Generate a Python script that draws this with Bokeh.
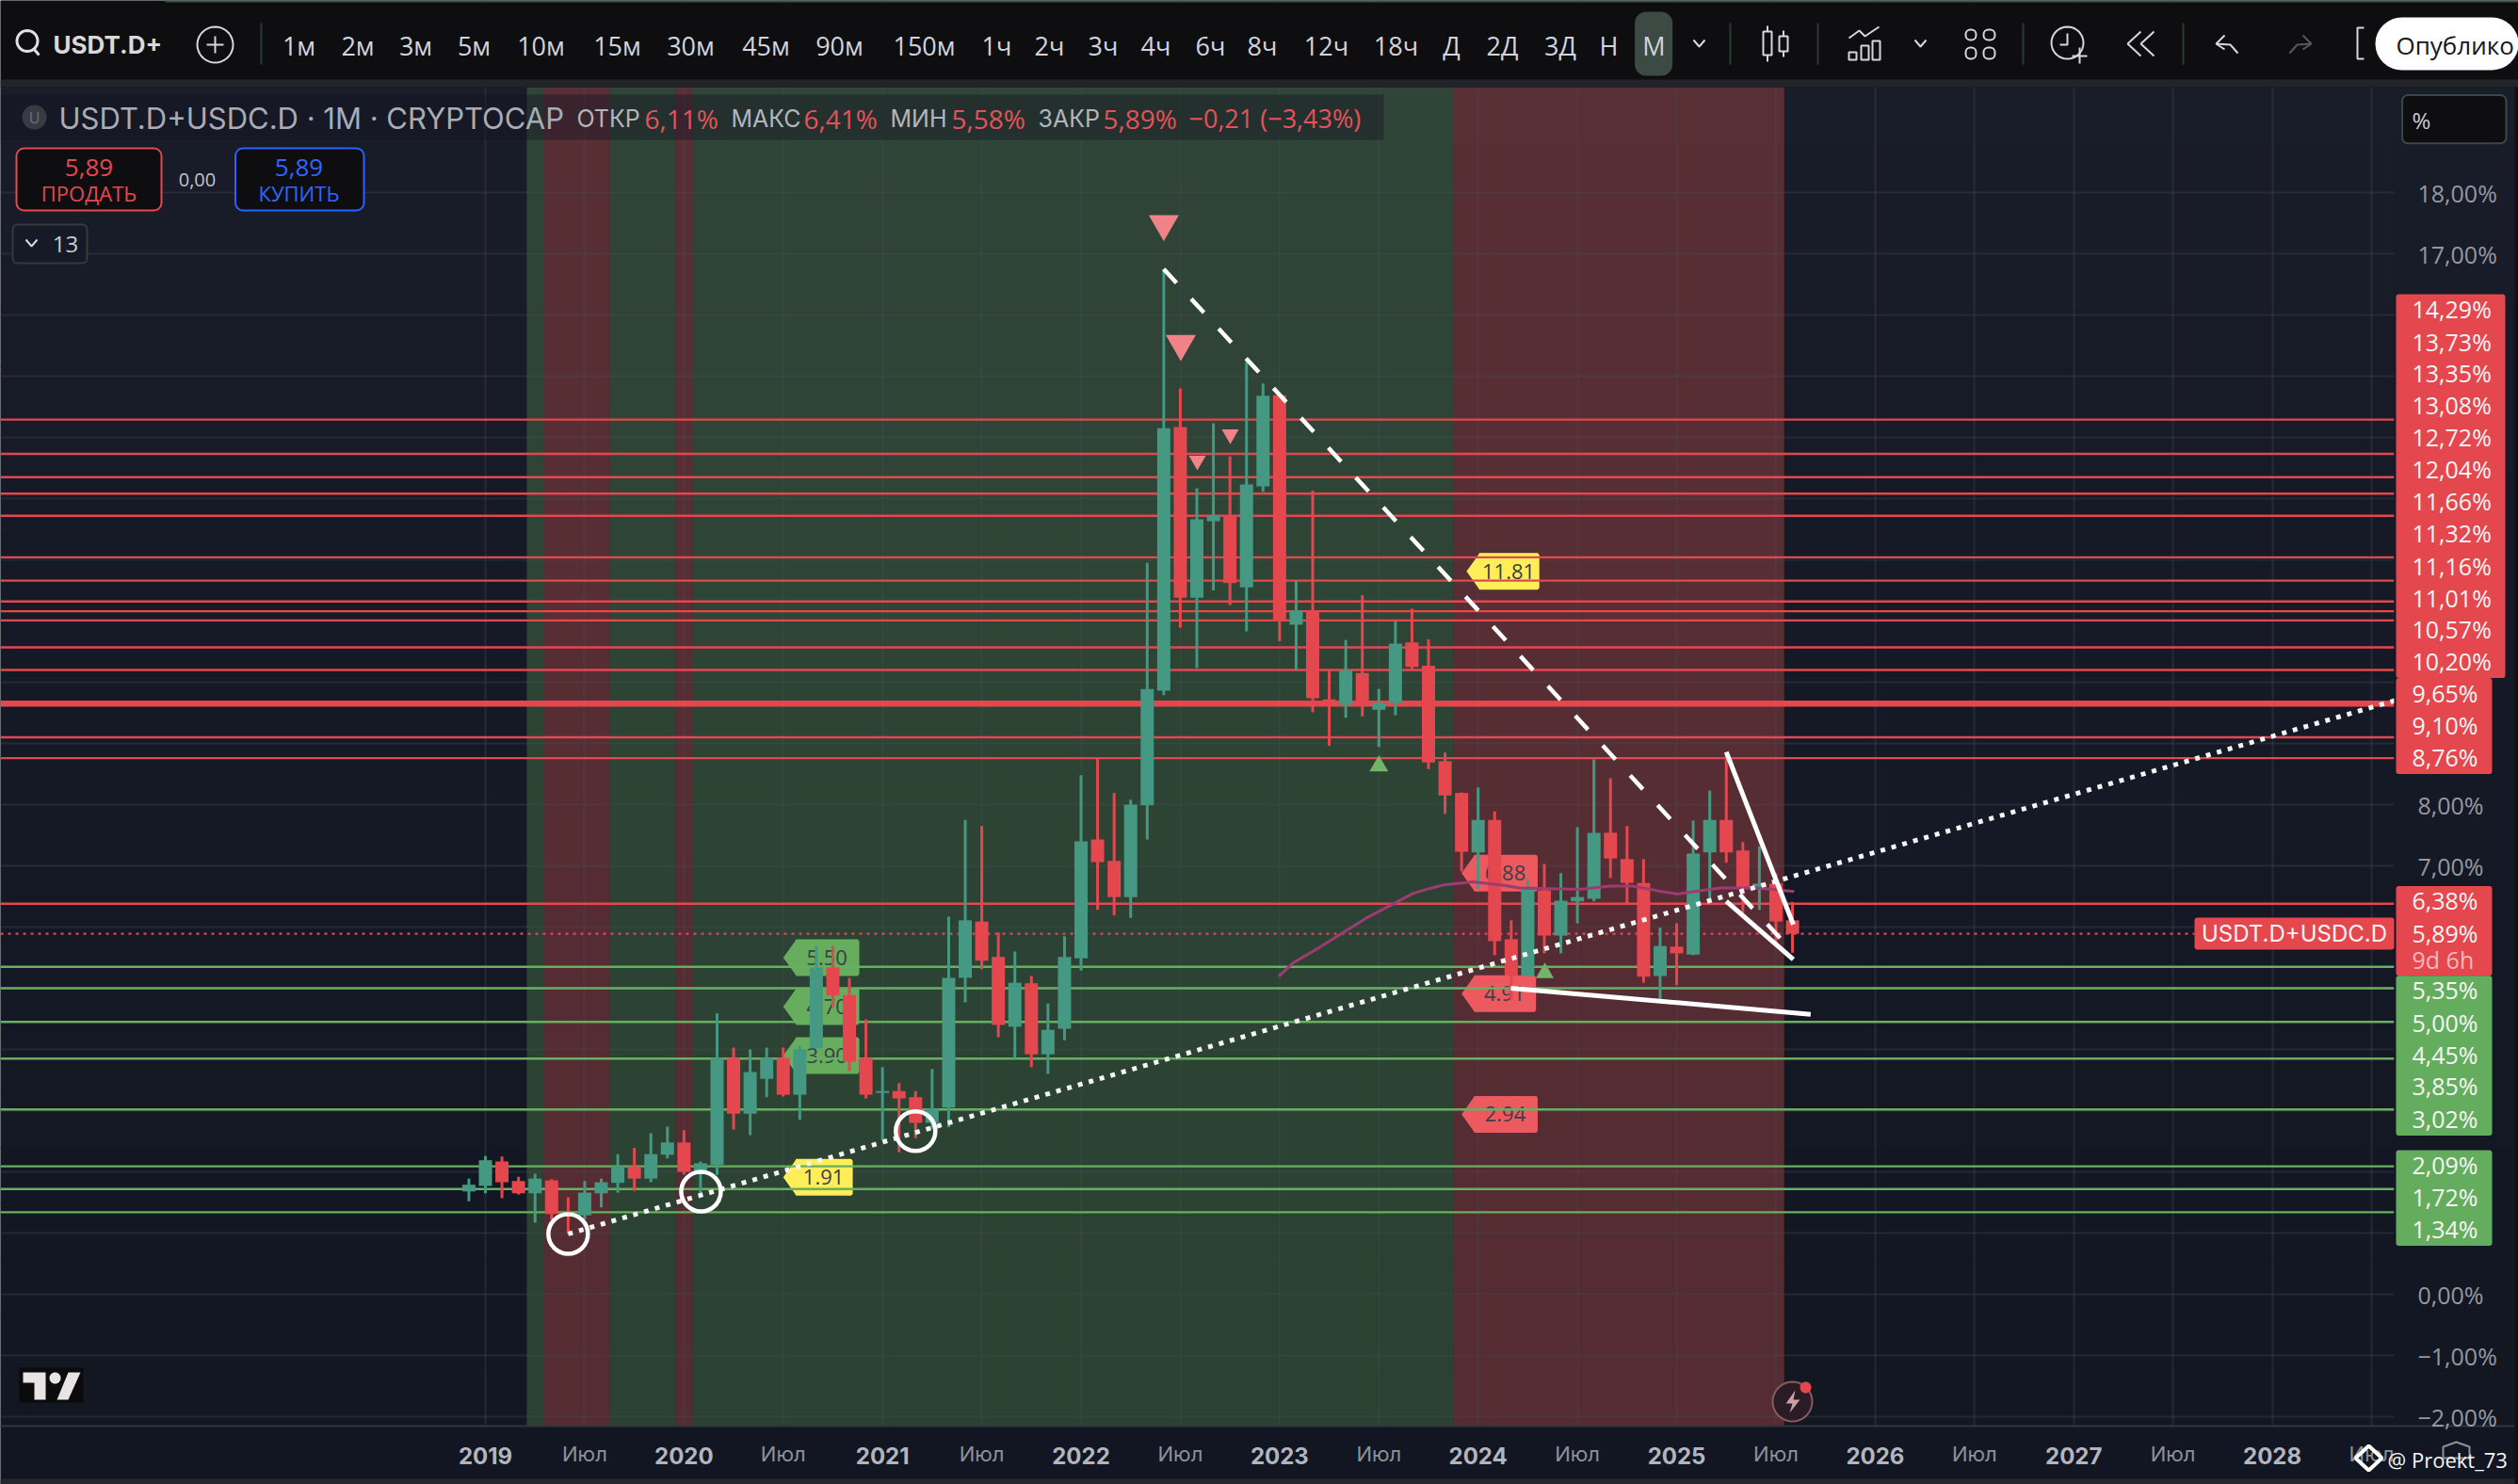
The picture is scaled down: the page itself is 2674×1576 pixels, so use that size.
import math
from bokeh.plotting import figure
from bokeh.embed import file_html
from bokeh.resources import INLINE
from bokeh.core.properties import value
from bokeh.models import (Range1d, FixedTicker, BoxAnnotation, PolyAnnotation, Label, LabelSet,
                          ColumnDataSource)

# ---------- data (percent, monthly bars; month 0 = Jan 2019) ----------
months = list(range(-1, 80))
opens = [1.68,1.77,2.17,1.85,1.65,1.86,1.31,1.29,1.65,1.82,2.09,1.89,2.28,2.48,2.01,2.11,3.86,2.95,3.52,3.86,3.26,
         4.02,5.34,4.89,3.86,3.29,3.32,3.22,2.80,3.05,5.17,6.09,5.51,4.37,5.08,3.92,4.34,5.49,7.43,7.08,6.49,7.99,
         9.86,14.17,11.38,12.63,12.72,11.55,13.20,14.69,10.94,11.16,9.72,9.63,10.15,9.55,9.66,10.65,10.27,8.71,8.19,
         7.22,7.75,5.80,5.20,6.60,5.86,6.42,6.46,7.54,7.11,6.72,5.20,5.68,5.55,7.22,7.75,7.25,6.62,6.71,6.11]
highs = [1.89,2.26,2.25,1.92,1.97,1.88,1.585,1.85,1.89,2.29,2.39,2.63,2.74,2.68,2.17,4.59,4.03,4.00,4.03,4.03,4.06,
         5.69,5.69,5.17,4.49,3.71,3.45,3.32,3.68,6.17,7.75,7.65,5.91,5.60,5.20,4.75,5.85,8.48,8.75,8.19,8.08,11.95,
         16.75,14.80,13.17,14.23,13.69,15.23,14.88,14.69,11.66,13.13,10.19,10.69,11.42,9.89,10.99,11.20,10.70,8.85,8.20,
         8.28,7.89,6.11,6.79,7.03,6.88,7.63,8.74,8.43,7.65,7.11,5.99,6.06,7.74,8.23,8.85,7.39,7.32,6.88,6.41]
lows = [1.52,1.65,1.57,1.63,1.17,1.22,0.985,1.22,1.42,1.66,1.69,1.83,2.22,1.96,1.65,1.95,2.69,2.60,3.22,3.23,2.85,
        4.02,4.68,3.65,3.20,2.52,2.32,2.55,2.70,2.73,4.77,5.31,4.20,3.85,3.71,3.60,4.15,5.29,6.28,6.19,6.15,7.43,
        9.79,10.89,10.23,11.50,11.26,10.83,13.11,10.67,10.19,9.51,8.96,9.42,9.44,8.94,9.46,10.21,8.58,7.85,6.91,
        6.63,5.54,4.80,5.20,5.57,5.57,6.06,6.42,6.80,6.39,5.09,4.82,5.05,5.54,6.39,7.05,6.22,6.28,5.75,5.58]
closes = [1.79,2.19,1.83,1.65,1.89,1.31,1.29,1.66,1.83,2.09,1.89,2.29,2.48,2.00,2.14,3.86,2.95,3.63,3.86,3.26,4.00,
          5.34,4.88,3.80,3.26,3.32,3.20,2.80,3.03,5.17,6.11,5.45,4.40,5.09,3.92,4.32,5.51,7.40,7.06,6.49,8.00,9.89,
          14.15,11.38,12.66,12.73,11.62,13.23,14.68,11.01,11.17,9.74,9.64,10.19,9.63,9.66,10.63,10.25,8.69,8.15,7.23,
          7.75,5.77,5.20,6.62,5.86,6.43,6.49,7.54,7.12,6.72,5.19,5.69,5.57,7.20,7.75,7.22,6.62,6.71,6.09,5.89]

red_levels = [14.29,13.73,13.35,13.08,12.72,12.04,11.66,11.32,11.16,11.01,10.57,10.20,9.10,8.76,6.38]
thick_level = [9.65]
green_levels = [5.35,5.00,4.45,3.85,3.02,2.09,1.72,1.34]
last_price = 5.89

ma_x = [47.95,48.85,50.37,53.2,56.06,57,57.96,59.66,61.56,62.5,66.1,68.0,69.34,70.9,72,73.1,74.65,76.9,79.1]
ma_y = [5.195,5.42,5.66,6.14,6.549,6.625,6.69,6.74,6.68,6.64,6.615,6.67,6.67,6.59,6.54,6.58,6.64,6.64,6.58]

dotted_x, dotted_y = [5, 115.4], [0.985, 9.70]
dashed_x, dashed_y = [41, 79.1], [16.75, 5.57]
solid_lines = [([75.0, 79.05], [8.86, 6.04]), ([75.0, 79.05], [6.42, 5.47]), ([61.98, 80.1], [5.0, 4.574])]
circle_x, circle_y = [5, 13.03, 26], [0.985, 1.677, 2.666]

down_tri_x, down_tri_y, down_tri_size = [41, 42.03, 43.03, 45.02], [17.49, 15.53, 13.62, 14.05], [32, 32, 18, 18]
up_tri_x, up_tri_y, up_tri_size = [54, 64.03], [8.63, 5.25], [20, 19]

note_values = [5.50, 4.70, 3.90, 1.91, 11.81, 6.88, 4.91, 2.94]
note_labels = ["5.50", "4.70", "3.90", "1.91", "11.81", "6.88", "4.91", "2.94"]
note_colors = ["#66ad5d", "#66ad5d", "#66ad5d", "#ffee58", "#ffee58", "#ec5a60", "#ec5a60", "#ec5a60"]
note_left = [18, 18, 18, 18, 59.3, 59.0, 59.0, 59.0]
note_right = [22.6, 22.6, 22.6, 22.2, 63.7, 63.6, 63.5, 63.6]

red_badges = ["14,29%","13,73%","13,35%","13,08%","12,72%","12,04%","11,66%","11,32%","11,16%","11,01%","10,57%","10,20%","9,65%","9,10%","8,76%","6,38%","5,89%"]
red_badge_y = [327.7,362,395,429.5,463.8,497.8,531.7,565.6,600,634,667.9,701.8,735.3,769.6,803.6,955.4,990]
green_badges = ["5,35%","5,00%","4,45%","3,85%","3,02%","2,09%","1,72%","1,34%"]
green_badge_y = [1050.6,1085.7,1119,1152.8,1187.5,1236.6,1270.6,1304]

price_ticks = list(range(-2, 19))
price_labels = {18: "18,00%", 17: "17,00%", 8: "8,00%", 7: "7,00%", 0: "0,00%", -1: "−1,00%", -2: "−2,00%"}
year_ticks = [0, 12, 24, 36, 48, 60, 72, 84, 96, 108]
year_labels = ["2019", "2020", "2021", "2022", "2023", "2024", "2025", "2026", "2027", "2028"]
half_ticks = [6, 18, 30, 42, 54, 66, 78, 90, 102, 114]
half_label = "Июл"

zones = [(2.5, 3.5, "g"), (3.5, 7.5, "r"), (7.5, 11.5, "g"), (11.5, 12.5, "r"), (12.5, 58.5, "g"), (58.5, 78.5, "r")]

timeframes = ["1м","2м","3м","5м","10м","15м","30м","45м","90м","150м","1ч","2ч","3ч","4ч","6ч","8ч","12ч","18ч","Д","2Д","3Д","Н","М"]
timeframe_x = [317,379.5,441,503,574,655,733,813,891,981,1058,1114,1171,1227,1285,1340,1408,1482,1541,1595,1656.5,1708,1756]

# ---------- scale: reference pixel <-> data ----------
X0, MPX, Y0, YPX = 515.0, 17.57, 1374.0, 65.0
def X(px): return (px - X0) / MPX
def Y(py): return (Y0 - py) / YPX

FONT = "Inter"
NUM = "Open Sans"
RED, GREEN = "#e4474e", "#459882"
LRED, LGREEN = "#e4474e", "#67b05f"
LEVEL = "annotation"

p = figure(frame_width=2674, frame_height=1576, min_border_left=0, min_border_right=0,
           min_border_top=0, min_border_bottom=0, toolbar_location=None, output_backend="svg",
           x_range=Range1d(X(0), X(2674)), y_range=Range1d(Y(1576), Y(0)),
           x_axis_location="below", y_axis_location="right")
p.background_fill_color = "#131722"
p.border_fill_color = "#131722"
p.outline_line_color = None

# axes (pinned at the pane's edges)
ya = p.yaxis[0]
ya.fixed_location = X(2542)
ya.ticker = FixedTicker(ticks=price_ticks)
ya.major_label_overrides = {t: price_labels.get(t, "") for t in price_ticks}
ya.major_label_text_font = NUM
ya.major_label_text_font_size = "25px"
ya.major_label_text_color = "#9598a1"
ya.major_label_standoff = 19
ya.major_tick_line_color = None
ya.minor_tick_line_color = None
ya.axis_line_color = None

xa = p.xaxis[0]
xa.fixed_location = Y(1514)
xa.ticker = FixedTicker(ticks=year_ticks)
xa.major_label_overrides = dict(zip(year_ticks, year_labels))
xa.major_label_text_font = FONT
xa.major_label_text_font_style = "bold"
xa.major_label_text_font_size = "24px"
xa.major_label_text_color = "#b2b5be"
xa.major_label_standoff = 16
xa.major_tick_line_color = None
xa.minor_tick_line_color = None
xa.axis_line_color = "#30343e"
xa.axis_line_width = 2

p.xgrid[0].ticker = FixedTicker(ticks=sorted(year_ticks + half_ticks))
p.ygrid[0].ticker = FixedTicker(ticks=price_ticks)
for g in (p.xgrid[0], p.ygrid[0]):
    g.grid_line_color = "#4a4f5a"
    g.grid_line_alpha = 0.32
    g.grid_line_width = 2

# vertical background shading of the pane
bands = 24
band_cols = []
for i in range(bands):
    t = i / (bands - 1)
    band_cols.append("#%02x%02x%02x" % (int(25 - 7 * t), int(28 - 5 * t), int(41 - 7 * t)))
    p.quad(left=X(0), right=X(2542), top=Y(92 + i * 1422 / bands), bottom=Y(92 + (i + 1) * 1422 / bands + 1),
           fill_color=band_cols[-1], line_color=None, level="image")

# zones
for x0, x1, k in zones:
    p.quad(left=x0, right=x1, top=Y(92), bottom=Y(1514),
           fill_color="#66a659" if k == "g" else "#ef5d56", fill_alpha=0.3, line_color=None, level="underlay")

# price notes (below levels and candles)
for v, t, c, l, r in zip(note_values, note_labels, note_colors, note_left, note_right):
    h = 19.5 / YPX
    tipw = 0.68
    p.patch([l, l + tipw, l + tipw + 0.1, r - 0.1, r, r, r - 0.1, l + tipw + 0.1, l + tipw],
            [v, v + h * 0.85, v + h, v + h, v + h * 0.9, v - h * 0.9, v - h, v - h, v - h * 0.85],
            fill_color=c, line_color=None)
    p.text([(l + tipw + r) / 2], [v], text=[t], text_font=value(NUM), text_font_size="22px",
           text_color="#3a3f4a", text_align="center", text_baseline="middle")

# levels
def levels(vals, color, lw, dash="solid", end=2542):
    p.segment(x0=[X(0)] * len(vals), y0=vals, x1=[X(end)] * len(vals), y1=vals,
              line_color=color, line_width=lw, line_dash=dash)
levels(red_levels, LRED, 2.4)
levels(thick_level, LRED, 6.5)
levels(green_levels, LGREEN, 2.4)
levels([last_price], LRED, 2.4, dash="3 5", end=2330)

# candles
col = [GREEN if c >= o else RED for o, c in zip(opens, closes)]
src = ColumnDataSource(dict(x=months, o=opens, h=highs, l=lows, c=closes, col=col,
                            top=[max(a, b) for a, b in zip(opens, closes)],
                            bot=[min(a, b) for a, b in zip(opens, closes)]))
p.segment("x", "h", "x", "l", source=src, line_color="col", line_width=3)
p.vbar("x", width=14 / MPX, top="top", bottom="bot", source=src, fill_color="col", line_color=None)

# moving average
p.line(ma_x, ma_y, line_color="#9c3c72", line_width=3)

# markers
p.scatter(down_tri_x, down_tri_y, marker="inverted_triangle", size=down_tri_size,
          fill_color="#f08387", line_color=None)
p.scatter(up_tri_x, up_tri_y, marker="triangle", size=up_tri_size, fill_color="#72b56a", line_color=None)

# drawings
p.line(dotted_x, dotted_y, line_color="#f5f5f5", line_width=5, line_dash="5 7")
p.line(dashed_x, dashed_y, line_color="#ffffff", line_width=4.5, line_dash="20 23")
for xs, ys in solid_lines:
    p.line(xs, ys, line_color="#ffffff", line_width=5)
p.scatter(circle_x, circle_y, marker="circle", size=42, fill_color=None, line_color="#ffffff", line_width=4.5)

# strips round the pane: cover grid ends; axes are drawn above them
for i in range(bands):
    p.quad(left=X(2542), right=X(2674), top=Y(92 + i * 1422 / bands), bottom=Y(92 + (i + 1) * 1422 / bands + 1),
           fill_color=band_cols[i], line_color=None)
p.quad(left=X(0), right=X(2674), top=Y(1514), bottom=Y(1576), fill_color="#121622", line_color=None)
p.quad(left=X(0), right=X(2674), top=Y(0), bottom=Y(92), fill_color="#0e0e10", line_color=None)

# ---------- helpers for everything outside the chart pane ----------
def box(x0, y0, x1, y1, fill=None, line=None, lw=1, r=0, alpha=1.0):
    p.add_layout(BoxAnnotation(left=X(x0), right=X(x1), top=Y(y0), bottom=Y(y1), fill_color=fill,
                               fill_alpha=alpha if fill else 0, line_color=line, line_width=lw,
                               line_alpha=1 if line else 0, border_radius=r, level=LEVEL))

def poly(pts, fill=None, line=None, lw=2):
    p.add_layout(PolyAnnotation(xs=[X(a) for a, _ in pts], ys=[Y(b) for _, b in pts], fill_color=fill,
                                fill_alpha=1 if fill else 0, line_color=line, line_alpha=1 if line else 0,
                                line_width=lw, level=LEVEL))

def stroke(pts, color="#d7d7d7", lw=2):
    poly(list(pts) + list(reversed(pts)), line=color, lw=lw)

def ring(cx, cy, r, color="#d7d7d7", lw=2, fill=None):
    poly([(cx + r * math.cos(i * math.pi / 18), cy + r * math.sin(i * math.pi / 18)) for i in range(36)],
         fill=fill, line=color, lw=lw)

def txt(x, y, text, size=26, color="#d1d4dc", style="normal", align="left", font=NUM):
    p.add_layout(Label(x=X(x), y=Y(y), text=text, text_font=font, text_font_size=f"{size}px",
                       text_color=color, text_font_style=style, text_align=align,
                       text_baseline="middle", level=LEVEL))

def chevron(cx, cy, color="#d7d7d7"):
    stroke([(cx - 6, cy - 3), (cx, cy + 4), (cx + 6, cy - 3)], color=color)

# time axis: half-year labels
p.add_layout(LabelSet(x="x", y="y", text="t", text_font=value(FONT), text_font_size="22px",
                      text_color="#8e9199", text_align="center", text_baseline="middle", level=LEVEL,
                      source=ColumnDataSource(dict(x=half_ticks, y=[Y(1543)] * len(half_ticks),
                                                   t=[half_label] * len(half_ticks)))))
box(0, 1570, 2674, 1576, fill="#26272b")
box(2670, 92, 2674, 1576, fill="#101014")

# header
box(175, 0, 2674, 2, fill="#3a5040")
box(0, 84, 2674, 92, fill="#232429")
ring(28.5, 43, 11, lw=3, color="#e0e0e0")
stroke([(35, 51), (41, 58)], color="#e0e0e0", lw=3)
txt(56, 47, "USDT.D+", 26, "#d9d9d9", "bold", font=FONT)
ring(228, 47, 19)
stroke([(228, 38), (228, 56)])
stroke([(219, 47), (237, 47)])
for sx in (277, 1837, 1930, 2148, 2318):
    stroke([(sx, 24), (sx, 68)], color="#2b3a30", lw=2)
box(1735.6, 12, 1775.6, 80, fill="#3b4a42", r=12)
for t, tx in zip(timeframes, timeframe_x):
    txt(tx, 48, t, 27, "#d1d4dc", align="center")
chevron(1804, 45)
box(1872, 33, 1881, 58, line="#d7d7d7", lw=2)
stroke([(1876.5, 27), (1876.5, 33)]); stroke([(1876.5, 58), (1876.5, 65)])
box(1889, 38, 1898, 54, line="#d7d7d7", lw=2)
stroke([(1893.5, 32), (1893.5, 38)]); stroke([(1893.5, 54), (1893.5, 60)])
stroke([(1963, 40), (1974, 32), (1980, 38), (1995, 28)])
for a, b, c in ((1963, 1971, 55), (1976, 1984, 48), (1988, 1996, 43)):
    box(a, c, b, 63, line="#d7d7d7", lw=2)
chevron(2039, 45)
for a, b in ((2087, 2098), (2106, 2118)):
    for c, d in ((31, 42), (50, 62)):
        box(a, c, b, d, line="#d7d7d7", lw=2, r=5)
ring(2195, 45, 17)
stroke([(2195, 35), (2195, 47), (2187, 47)])
stroke([(2208, 50), (2208, 67)]); stroke([(2200, 59), (2216, 59)])
stroke([(2273, 33), (2259, 46), (2273, 59)])
stroke([(2287, 33), (2273, 46), (2287, 59)])
stroke([(2362, 37), (2353, 46), (2362, 52)])
stroke([(2353, 46), (2368, 47), (2376, 56)])
stroke([(2445, 37), (2454, 46), (2445, 52)], color="#55585e")
stroke([(2454, 46), (2439, 47), (2431, 56)], color="#55585e")
stroke([(2510, 29), (2503, 29), (2503, 62), (2510, 62)])
box(2522, 18, 2674, 74, fill="#ffffff", r=28)
txt(2544, 47, "Опублико", 26, "#131722")

# legend row
box(0, 100, 1469, 148, fill="#131722", alpha=0.45)
ring(36, 124, 12, color="#3a3a42", fill="#3a3a42")
txt(36, 124, "U", 16, "#6d6f78", align="center")
txt(62, 125, "USDT.D+USDC.D · 1M · CRYPTOCAP", 31, "#a9acb5", font=FONT)
txt(612, 125, "ОТКР", 25, "#b2b5be", font=FONT)
txt(684, 125, "6,11%", 28, "#e5525a")
txt(776, 125, "МАКС", 25, "#b2b5be", font=FONT)
txt(853, 125, "6,41%", 28, "#e5525a")
txt(945, 125, "МИН", 25, "#b2b5be", font=FONT)
txt(1010, 125, "5,58%", 28, "#e5525a")
txt(1102, 125, "ЗАКР", 25, "#b2b5be", font=FONT)
txt(1171, 125, "5,89%", 28, "#e5525a")
txt(1262, 125, "−0,21 (−3,43%)", 27, "#e5525a")

# trade buttons
box(17, 157, 171, 223, fill="#0e0e10", line="#e5484d", lw=2, r=8)
txt(94, 177, "5,89", 26, "#e5484d", align="center")
txt(94, 204, "ПРОДАТЬ", 22, "#e5484d", align="center")
txt(209, 190, "0,00", 20, "#c0c3ca", align="center")
box(249.5, 157, 386, 223, fill="#0e0e10", line="#2962ff", lw=2, r=8)
txt(317, 177, "5,89", 26, "#2f66ff", align="center")
txt(317, 204, "КУПИТЬ", 22, "#2f66ff", align="center")
box(13, 238, 92, 279, fill="#161a27", line="#2f3e36", lw=2, r=5)
chevron(33, 257)
txt(69, 259, "13", 24, "#c8cbd2", align="center")

# scale-mode box
box(2550.6, 100.6, 2661, 151.7, fill="#0e0e10", line="#3a4a40", lw=2, r=6)
txt(2561, 127, "%", 24, "#c8cbd2")

# price badges
box(2544, 312, 2660, 719.6, fill="#e4474e", r=3)
box(2544, 719.6, 2646, 821.4, fill="#e4474e", r=3)
box(2544, 940.6, 2646, 1035.8, fill="#e4474e", r=3)
box(2544, 1035.8, 2646, 1205.5, fill="#65ad5e", r=3)
box(2544, 1221, 2646, 1322.5, fill="#65ad5e", r=3)
box(2330, 974, 2542, 1008, fill="#e4474e", r=3)
txt(2436, 991, "USDT.D+USDC.D", 24, "#f5f5f5", align="center", font=FONT)
p.add_layout(LabelSet(x="x", y="y", text="t", text_font=value(NUM), text_font_size="25px",
                      text_color="#f5f5f5", text_baseline="middle", level=LEVEL,
                      source=ColumnDataSource(dict(x=[X(2561)] * (len(red_badges) + len(green_badges)),
                                                   y=[Y(v) for v in red_badge_y + green_badge_y],
                                                   t=red_badges + green_badges))))
txt(2561, 1018, "9d 6h", 25, "#f5b8bb")

# logo
box(20, 1452, 88, 1489, fill="#0b0b0e")
poly([(24, 1457), (48, 1457), (48, 1486), (36, 1486), (36, 1468), (24, 1468)], fill="#e8e4e4")
ring(58, 1463, 5, color="#e8e4e4", fill="#e8e4e4")
poly([(72, 1457), (85, 1457), (72, 1486), (60, 1486)], fill="#e8e4e4")

# flash icon
ring(1903, 1488, 21, color="#8a5a5f", fill="#2a1c24")
poly([(1906, 1476), (1896, 1490), (1903, 1490), (1900, 1500), (1911, 1486), (1904, 1486)], fill="#c9a0a4")
ring(1917, 1473, 5, color="#e4474e", fill="#e4474e")

# watermark
poly([(2515, 1535), (2529, 1548), (2515, 1561), (2501, 1548)], line="#ffffff", lw=4)
poly([(2608, 1531), (2622, 1536), (2622, 1548), (2594, 1548), (2594, 1536)], line="#8e9199", lw=2)
txt(2535, 1549, "@ Proekt_73", 22, "#f5f5f5")

open("out.html", "w").write(file_html(p, INLINE))
